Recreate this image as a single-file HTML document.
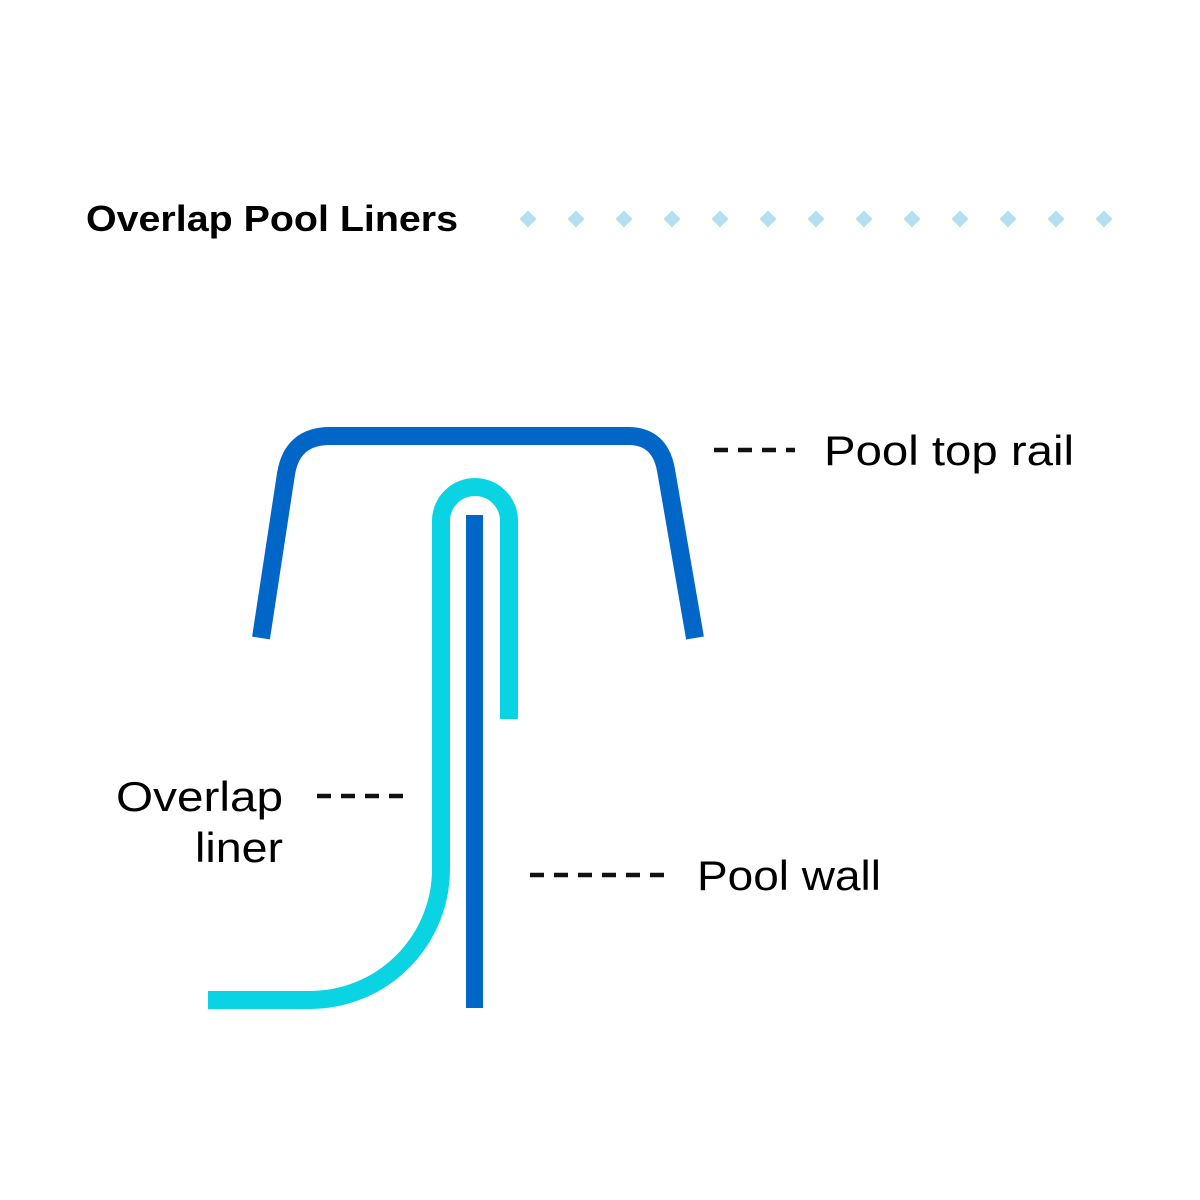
<!DOCTYPE html>
<html><head><meta charset="utf-8"><style>
html,body{margin:0;padding:0;background:#fff;}
svg{display:block;}
</style></head><body>
<svg width="1200" height="1200" viewBox="0 0 1200 1200" xmlns="http://www.w3.org/2000/svg">
<rect width="1200" height="1200" fill="#fff"/>
<text x="86" y="231" font-family="Liberation Sans, sans-serif" font-weight="bold" font-size="36" fill="#000" textLength="372" lengthAdjust="spacingAndGlyphs">Overlap Pool Liners</text>
<g fill="#b3e0ee">
<rect x="522" y="213" width="12" height="12" transform="rotate(45 528 219)"/>
<rect x="570" y="213" width="12" height="12" transform="rotate(45 576 219)"/>
<rect x="618" y="213" width="12" height="12" transform="rotate(45 624 219)"/>
<rect x="666" y="213" width="12" height="12" transform="rotate(45 672 219)"/>
<rect x="714" y="213" width="12" height="12" transform="rotate(45 720 219)"/>
<rect x="762" y="213" width="12" height="12" transform="rotate(45 768 219)"/>
<rect x="810" y="213" width="12" height="12" transform="rotate(45 816 219)"/>
<rect x="858" y="213" width="12" height="12" transform="rotate(45 864 219)"/>
<rect x="906" y="213" width="12" height="12" transform="rotate(45 912 219)"/>
<rect x="954" y="213" width="12" height="12" transform="rotate(45 960 219)"/>
<rect x="1002" y="213" width="12" height="12" transform="rotate(45 1008 219)"/>
<rect x="1050" y="213" width="12" height="12" transform="rotate(45 1056 219)"/>
<rect x="1098" y="213" width="12" height="12" transform="rotate(45 1104 219)"/>
</g>
<path d="M261 638 L286 474 Q292 436 330 436 L628 436 Q660 436 666 470 L695 638" fill="none" stroke="#0066c8" stroke-width="18"/>
<path d="M208 1000 L310 1000 A131 131 0 0 0 441 869 L441 521 A34 34 0 0 1 509 521 L509 719" fill="none" stroke="#0ad3e3" stroke-width="18"/>
<rect x="466" y="515" width="17" height="493" fill="#0066c8"/>
<g stroke="#111" stroke-width="4.5">
<line x1="714" y1="450" x2="795" y2="450" stroke-dasharray="14 10"/>
<line x1="317" y1="796" x2="404" y2="796" stroke-dasharray="14 10"/>
<line x1="530" y1="875" x2="668" y2="875" stroke-dasharray="14 10"/>
</g>
<g font-family="Liberation Sans, sans-serif" font-size="42" fill="#000">
<text x="824" y="465" textLength="250" lengthAdjust="spacingAndGlyphs">Pool top rail</text>
<text x="116" y="811" textLength="167" lengthAdjust="spacingAndGlyphs">Overlap</text>
<text x="195" y="862" textLength="88" lengthAdjust="spacingAndGlyphs">liner</text>
<text x="697" y="890" textLength="184" lengthAdjust="spacingAndGlyphs">Pool wall</text>
</g>
</svg>
</body></html>
